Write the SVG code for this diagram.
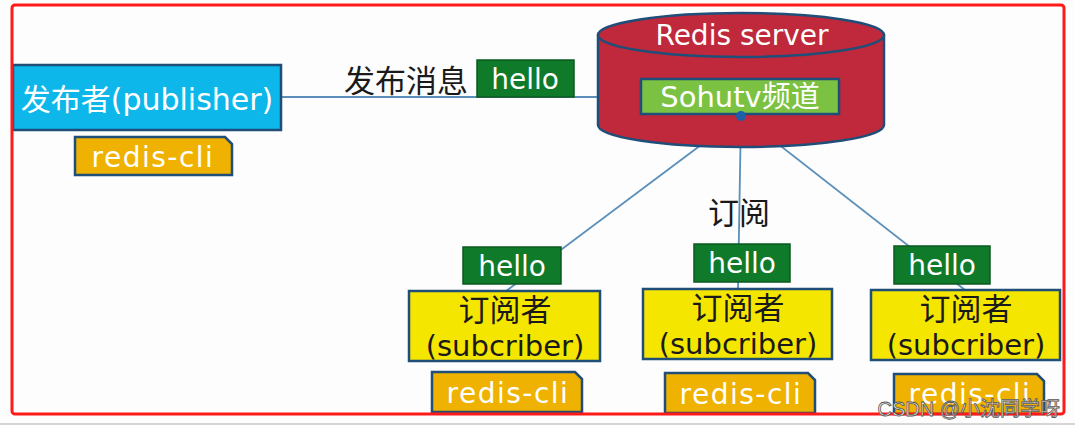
<svg xmlns="http://www.w3.org/2000/svg" width="1075" height="427" viewBox="0 0 1075 427">
<style>
.t{font-family:"DejaVu Sans","Noto Sans CJK SC",sans-serif;text-anchor:middle}
.w{fill:#FFFFFF}
.k{fill:#1A1A1A}
.box{stroke:#1F4E79;stroke-width:2.5}
.hello{fill:#0E7A2A;stroke:#0B5A20;stroke-width:1.5}
.cli{fill:#EFB200;stroke:#1F4E79;stroke-width:2.5}
.clit{letter-spacing:1.5px}
.sub{fill:#F5E600;stroke:#1F4E79;stroke-width:2.5}
.conn{stroke:#5B8FB9;stroke-width:1.8;fill:none}
</style>
<defs>
<marker id="arr" viewBox="0 0 10 10" refX="9" refY="5" markerWidth="5" markerHeight="5" orient="auto">
<path d="M0,0 L10,5 L0,10 z" fill="#2E6DA4"/>
</marker>
</defs>
<rect x="0" y="0" width="1075" height="427" fill="#FDFDFD"/>
<line x1="0" y1="424" x2="1075" y2="424" stroke="#C8C8C8" stroke-width="1.5"/>

<g id="connectors">
<line class="conn" x1="281" y1="97" x2="640" y2="97" marker-end="url(#arr)"/>
<line class="conn" x1="741" y1="115" x2="506" y2="291"/>
<line class="conn" x1="741" y1="115" x2="738" y2="289"/>
<line class="conn" x1="741" y1="115" x2="965" y2="290"/>
</g>

<g id="publisher">
<rect class="box" x="13" y="65" width="268" height="65" fill="#0DB7EA"/>
<text class="t w" x="147" y="110" font-size="30">发布者(publisher)</text>
</g>
<g id="publisher-cli">
<path class="cli" d="M75,137 H225 L232,144 V175 H75 Z"/>
<text class="t w clit" x="153" y="167" font-size="28">redis-cli</text>
</g>

<g id="publish-label">
<text class="t k" x="406" y="92" font-size="31">发布消息</text>
<rect class="hello" x="477" y="60" width="97" height="37"/>
<text class="t w" x="525" y="89" font-size="28">hello</text>
</g>

<g id="redis-server">
<path d="M598,35 V125 A143,22 0 0 0 884,125 V35" fill="#C0283C" stroke="#1F4E79" stroke-width="2.5"/>
<ellipse cx="741" cy="35" rx="143" ry="22" fill="#C0283C" stroke="#1F4E79" stroke-width="2.5"/>
<text class="t w" x="742" y="45" font-size="28">Redis server</text>
</g>
<g id="channel">
<rect class="box" x="641" y="79" width="198" height="35" fill="#7CC242"/>
<text class="t w" x="740" y="107" font-size="29">Sohutv频道</text>
<circle cx="741" cy="116" r="5" fill="#1F5FA8"/>
</g>

<g id="subscribe-label">
<text class="t k" x="739" y="224" font-size="31">订阅</text>
</g>

<g id="hello-1">
<rect class="hello" x="463" y="247" width="98" height="37"/>
<text class="t w" x="512" y="276" font-size="28">hello</text>
</g>
<g id="hello-2">
<rect class="hello" x="694" y="244" width="96" height="38"/>
<text class="t w" x="742" y="273" font-size="28">hello</text>
</g>
<g id="hello-3">
<rect class="hello" x="894" y="246" width="96" height="38"/>
<text class="t w" x="942" y="275" font-size="28">hello</text>
</g>

<g id="subscriber-1">
<rect class="sub" x="409" y="291" width="191" height="70"/>
<text class="t k" x="505" y="321" font-size="31">订阅者</text>
<text class="t k" x="505" y="356" font-size="29">(subcriber)</text>
</g>
<g id="subscriber-2">
<rect class="sub" x="643" y="289" width="189" height="70"/>
<text class="t k" x="738" y="319" font-size="31">订阅者</text>
<text class="t k" x="738" y="354" font-size="29">(subcriber)</text>
</g>
<g id="subscriber-3">
<rect class="sub" x="871" y="290" width="189" height="70"/>
<text class="t k" x="966" y="320" font-size="31">订阅者</text>
<text class="t k" x="966" y="355" font-size="29">(subcriber)</text>
</g>

<g id="cli-1">
<path class="cli" d="M432,372 H575 L582,379 V412 H432 Z"/>
<text class="t w clit" x="508" y="403" font-size="28">redis-cli</text>
</g>
<g id="cli-2">
<path class="cli" d="M665,373 H808 L815,380 V413 H665 Z"/>
<text class="t w clit" x="741" y="404" font-size="28">redis-cli</text>
</g>
<g id="cli-3">
<path class="cli" d="M894,374 H1037 L1044,381 V414 H894 Z"/>
<text class="t w clit" x="970" y="404" font-size="28">redis-cli</text>
</g>

<rect x="12" y="5" width="1052" height="409" rx="3" fill="none" stroke="#FF1A1A" stroke-width="3"/>
<text x="1060" y="416" font-family="'Liberation Sans','Noto Sans CJK SC',sans-serif" font-size="20" text-anchor="end" fill="#F2F2F2" stroke="#555555" stroke-width="0.8">CSDN @小沈同学呀</text>
</svg>
